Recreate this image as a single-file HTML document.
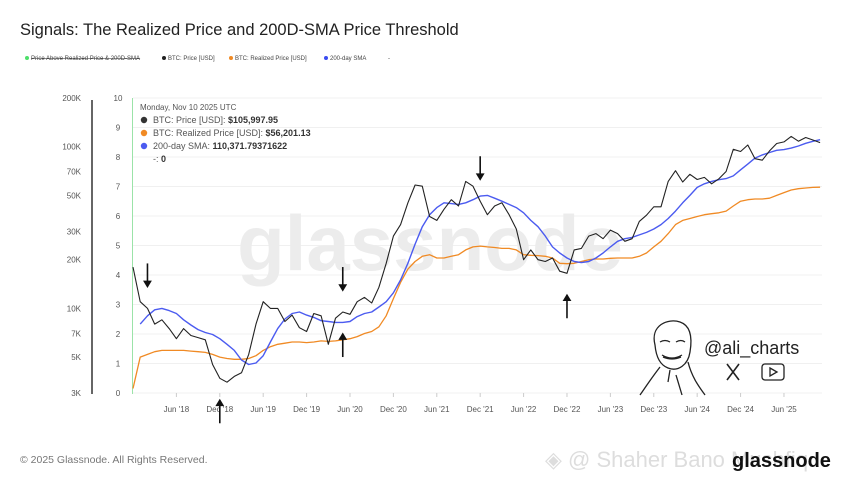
<!DOCTYPE html>
<html><head><meta charset="utf-8"><style>
body{margin:0;background:#fff;}
#wrap{position:relative;width:860px;height:484px;overflow:hidden;font-family:"Liberation Sans",sans-serif;}
</style></head><body>
<div id="wrap">
<svg id="svg" width="860" height="484" font-family="Liberation Sans, sans-serif">
<text x="20" y="35" font-size="16.5" fill="#222">Signals: The Realized Price and 200D-SMA Price Threshold</text>
<g font-size="6" fill="#444">
<circle cx="27" cy="58" r="2" fill="#4ddf6a"/><text x="31" y="60" text-decoration="line-through">Price Above Realized Price &amp; 200D-SMA</text>
<circle cx="164" cy="58" r="2" fill="#222"/><text x="168" y="60">BTC: Price [USD]</text>
<circle cx="231" cy="58" r="2" fill="#f08a24"/><text x="235" y="60">BTC: Realized Price [USD]</text>
<circle cx="326" cy="58" r="2" fill="#3b4cf0"/><text x="330" y="60">200-day SMA</text>
<text x="388" y="60">-</text>
</g>
<g id="grid"></g>
<g id="yaxis" font-size="8" fill="#555"></g>
<g id="y2axis" font-size="8" fill="#555"></g>
<line x1="92" y1="100" x2="92" y2="394" stroke="#333" stroke-width="1.5"/>
<g id="xaxis" font-size="8" fill="#555"></g>
<text x="430" y="270" font-size="78" fill="#ececec" text-anchor="middle" font-weight="bold">glassnode</text>
<line x1="132.5" y1="98" x2="132.5" y2="394" stroke="#9be3a8" stroke-width="1"/>
<g id="series"></g>
<g font-size="9" fill="#555">
<text x="140" y="110" font-size="8">Monday, Nov 10 2025 UTC</text>
<circle cx="144" cy="120" r="3.2" fill="#333"/><text x="153" y="123">BTC: Price [USD]: <tspan font-weight="bold" fill="#333">$105,997.95</tspan></text>
<circle cx="144" cy="133" r="3.2" fill="#f08a24"/><text x="153" y="136">BTC: Realized Price [USD]: <tspan font-weight="bold" fill="#333">$56,201.13</tspan></text>
<circle cx="144" cy="146" r="3.2" fill="#4b5bf0"/><text x="153" y="149">200-day SMA: <tspan font-weight="bold" fill="#333">110,371.79371622</tspan></text>
<text x="153" y="162">-: <tspan font-weight="bold" fill="#333">0</tspan></text>
</g>
<g id="arrows" stroke="#111" stroke-width="1.6" fill="#111"></g>
<g stroke="#222" fill="none" stroke-width="1.3">
<path d="M655 345 C650 325 668 318 680 322 C692 326 692 340 690 352 C688 365 678 372 668 368 C660 365 656 356 655 345 Z" fill="#fff"/>
<path d="M660 342 q5 -3 10 0 M676 342 q5 -3 9 0 M662 355 q10 6 20 0 M663 357 q9 4 18 0"/>
<path d="M670 370 L668 382 M660 367 C650 380 645 388 640 395 M688 362 C692 378 700 388 705 395 M676 375 L682 395"/>
<text x="704" y="354" font-size="18" fill="#222" stroke="none">@ali_charts</text>
<path d="M727 364 L739 380 M739 364 L727 380" stroke-width="1.6"/>
<rect x="762" y="364" width="22" height="16" rx="3"/>
<path d="M770 368 L777 372 L770 376 Z"/>
</g>
<text x="20" y="463" font-size="10.5" fill="#777">© 2025 Glassnode. All Rights Reserved.</text>
<text x="545" y="467" font-size="22" fill="#ddd">◈ @ Shaher Bano Mushfiq</text>
<text x="732" y="467" font-size="20" fill="#111" font-weight="bold">glassnode</text>
</svg>
</div>
<script>
const xLabels=["Jun '18","Dec '18","Jun '19","Dec '19","Jun '20","Dec '20","Jun '21","Dec '21","Jun '22","Dec '22","Jun '23","Dec '23","Jun '24","Dec '24","Jun '25"];
const yLogTicks=[3000,5000,7000,10000,20000,30000,50000,70000,100000,200000];
const yLogLabels=["3K","5K","7K","10K","20K","30K","50K","70K","100K","200K"];
const y2Ticks=[0,1,2,3,4,5,6,7,8,9,10];
// monthly, Dec 2017 .. Nov 2025
const price=[18000,11000,10000,8000,8500,7500,6500,7500,6800,6600,6400,4500,3700,
3500,3800,4000,5200,8000,11000,10000,10000,8300,9100,7600,7200,
9300,9000,6000,8700,9500,9200,11000,11700,10800,13500,19000,28000,
33000,45000,58000,57000,37000,35000,41000,47000,43000,61000,57000,46000,
38000,43000,45000,38000,31000,20000,23000,20000,19500,20500,17000,16500,
23000,23500,28000,29000,27000,30500,29000,26000,27000,34500,37700,42500,
42500,61000,71000,60500,67500,62700,64600,59000,63300,70200,96400,93400,
102400,84300,82500,94200,104600,107100,115700,108200,114000,110000,106000];
const realized=[3200,5000,5200,5400,5500,5500,5500,5500,5450,5400,5350,5200,5000,
4900,4850,4850,4900,5100,5500,5800,6000,6100,6200,6200,6150,
6200,6300,6250,6300,6400,6500,6700,7000,7200,7700,9000,11500,
14500,17500,19500,21000,21500,20500,20500,21000,21500,23000,24000,24300,
24000,23800,23500,23500,23000,21500,21300,21200,21000,20500,19000,18900,
19000,19500,20000,20200,20200,20400,20500,20500,20500,21000,22000,24000,
26000,29000,33000,35000,36000,37000,38000,38500,39000,40000,43000,46000,
47000,47500,47500,48000,50000,52000,54000,55000,55500,56000,56200];
const sma=[null,8000,9000,9800,10000,9700,9300,8500,7900,7400,7100,6900,6500,
6000,5500,4800,4500,4600,5100,6200,7500,8600,9300,9500,9100,
8800,8400,8300,8200,8200,8300,8900,9300,9500,10200,11000,12500,
15000,19000,25000,32000,38000,42000,45000,44500,44000,45000,47000,49500,
50000,48000,46000,44000,42000,39000,35000,32000,28000,24000,22000,20500,
19500,19200,19500,20500,22000,24000,26000,27000,27500,28500,29500,31000,
33000,36000,40000,45000,50000,56000,59000,61000,62500,63500,66000,72000,
78000,85000,89000,92000,95000,96000,98000,101000,105000,108000,110400];
// annotation arrows: month index, direction
const arrowMonths=[2,12,29,29,48,60];
const arrowDirs=["down","up","down","up","down","up"];

const NS="http://www.w3.org/2000/svg";
const X0=133,PXM=7.233,YT=98,YB=393,LMAX=Math.log10(200000),LMIN=Math.log10(3000);
function xs(i){return X0+i*PXM;}
function yl(v){return YT+(LMAX-Math.log10(v))/(LMAX-LMIN)*(YB-YT);}
function y2(v){return YB-v/10*(YB-YT);}
function mk(t,a,p){const e=document.createElementNS(NS,t);for(const k in a)e.setAttribute(k,a[k]);p.appendChild(e);return e;}
const grid=document.getElementById('grid'),ya=document.getElementById('yaxis'),y2a=document.getElementById('y2axis'),xa=document.getElementById('xaxis');
y2Ticks.forEach(v=>{
 const l=mk('line',{x1:133,x2:822,y1:y2(v),y2:y2(v),stroke:'#f0f0f0'},grid);
 
 
 const t=mk('text',{x:118,y:y2(v)+3,'text-anchor':'middle'},y2a);t.textContent=v;
 
 
});
yLogTicks.forEach((v,i)=>{
 const t=mk('text',{x:81,y:yl(v)+3,'text-anchor':'end'},ya);t.textContent=yLogLabels[i];
 
 
});
xLabels.forEach((s,i)=>{
 const x=xs(6+i*6);
 mk('line',{x1:x,x2:x,y1:393,y2:397,stroke:'#ccc'},xa);
 const t=mk('text',{x:x,y:412,'text-anchor':'middle'},xa);t.textContent=s;
 
 
});
const ser=document.getElementById('series');
function line(arr,color,w,name,fn){
 let d='';arr.forEach((v,i)=>{if(v==null)return;d+=(d?'L':'M')+xs(i).toFixed(1)+' '+fn(v).toFixed(1);});
 const p=mk('path',{d:d,fill:'none',stroke:color,'stroke-width':w,'stroke-linejoin':'round'},ser);
 
 
}
line(realized,'#f08a24',1.3,'realized-price-line',yl);
line(sma,'#4b5bf0',1.4,'sma-200d-line',yl);
line(price,'#222',1.1,'btc-price-line',yl);
const ar=document.getElementById('arrows');
arrowMonths.forEach((m,i)=>{
 const x=xs(m),py=yl(price[m]);
 if(arrowDirs[i]=='down'){const y1=py-45,y2b=py-22;mk('path',{d:`M${x} ${y1}L${x} ${y2b}`},ar);mk('path',{d:`M${x-3} ${y2b-5}L${x} ${y2b}L${x+3} ${y2b-5}Z`},ar);}
 else{const y1=py+45,y2b=py+22;mk('path',{d:`M${x} ${y1}L${x} ${y2b}`},ar);mk('path',{d:`M${x-3} ${y2b+5}L${x} ${y2b}L${x+3} ${y2b+5}Z`},ar);}
});
</script>
</body></html>
